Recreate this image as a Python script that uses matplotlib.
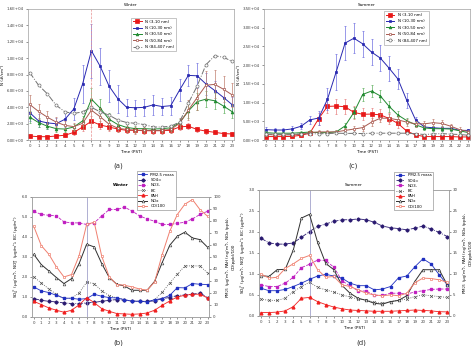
import matplotlib.pyplot as plt
import numpy as np

hours = np.arange(24)

# --- (a) winter number concentrations (#/cm3)
w_n3_10 = [500, 420, 420, 500, 600, 940, 1600, 2300, 1850, 1600, 1350, 1200,
           1200, 1150, 1150, 1150, 1200, 1600, 1700, 1300, 1100, 950, 800, 750]
w_n10_30 = [3350, 2350, 2100, 2000, 2550, 3800, 6850, 10900, 9000, 6600, 5050, 4000,
            3950, 4000, 4300, 4100, 4200, 6100, 7900, 7850, 6850, 6050, 5200, 4300]
w_n30_50 = [2800, 2150, 1700, 1400, 1350, 1600, 2350, 5000, 3900, 2550, 1900, 1550,
            1400, 1400, 1350, 1400, 1500, 2100, 3550, 4700, 5000, 4800, 4150, 3450]
w_n50_84 = [4350, 3500, 2800, 2200, 1800, 1650, 2050, 3650, 2850, 1950, 1450, 1300,
            1200, 1200, 1150, 1200, 1300, 2050, 3650, 5200, 6700, 6800, 6200, 5500]
w_n84_407 = [8250, 6700, 5650, 4250, 3450, 3250, 3450, 4000, 3450, 3050, 2450, 2150,
             2050, 1900, 1600, 1600, 1700, 2200, 4500, 6600, 9200, 10300, 10100, 9600]
w_e3_10 = [200, 150, 150, 200, 250, 350, 500, 700, 500, 450, 400, 350,
           300, 300, 300, 300, 300, 400, 400, 350, 300, 250, 250, 200]
w_e10_30 = [1000, 800, 700, 700, 900, 1400, 2300, 3300, 2300, 1900, 1700, 1000,
            1000, 1000, 1200, 1000, 1100, 1300, 1300, 1500, 1300, 1200, 1100, 1000]
w_e30_50 = [700, 500, 400, 350, 350, 400, 600, 1400, 1100, 700, 500, 400,
            350, 350, 350, 350, 400, 500, 800, 1000, 1000, 1000, 900, 800]
w_e50_84 = [1100, 900, 800, 600, 500, 500, 700, 1500, 1100, 700, 500, 400,
            400, 400, 400, 400, 400, 700, 1200, 1500, 1700, 1700, 1600, 1500]

# --- (c) summer number concentrations (#/cm3)
s_n3_10 = [950, 950, 950, 1000, 1300, 1850, 5750, 9000, 9100, 8900, 7400, 6900,
           6950, 6750, 5750, 4450, 2400, 1400, 950, 950, 950, 950, 850, 850]
s_n10_30 = [2800, 2700, 2700, 3000, 3700, 5400, 5900, 10900, 18300, 25900, 27200, 25700,
            23500, 21900, 19200, 16300, 10600, 5400, 3500, 3300, 3150, 3150, 2600, 2600]
s_n30_50 = [2000, 1850, 1850, 1850, 2000, 2150, 2000, 2000, 2200, 3800, 7400, 12200,
            13100, 11800, 9000, 6700, 5200, 4100, 3250, 3050, 3050, 2950, 2500, 2000]
s_n50_84 = [1500, 1400, 1400, 1400, 1550, 2000, 2200, 2200, 2200, 2600, 2950, 3350,
            4800, 5850, 5850, 5400, 4800, 4350, 4350, 4650, 4450, 3700, 2800, 2300]
s_n84_407 = [1650, 1550, 1550, 1600, 1650, 1700, 1700, 1750, 1850, 1800, 1800, 1750,
             1850, 1850, 1850, 1850, 1850, 1700, 1500, 1650, 1750, 1600, 1500, 1300]
s_e3_10 = [300, 300, 300, 300, 400, 600, 1600, 1800, 2000, 2000, 1800, 1600,
           1500, 1500, 1400, 1100, 700, 400, 300, 300, 300, 300, 300, 300]
s_e10_30 = [600, 600, 600, 700, 800, 1000, 1800, 2900, 4800, 4500, 4000, 3500,
            3400, 3400, 3300, 2700, 2000, 800, 600, 600, 600, 600, 500, 500]
s_e30_50 = [500, 400, 400, 400, 400, 500, 500, 500, 500, 800, 1400, 1700,
            1600, 1500, 1400, 1100, 800, 700, 600, 600, 600, 500, 500, 400]
s_e50_84 = [400, 400, 400, 400, 400, 500, 500, 500, 500, 600, 700, 800,
            1000, 1100, 1100, 1000, 900, 800, 800, 900, 900, 700, 600, 500]

# --- (b) winter species
w_pm25 = [25, 21.7, 20.3, 18, 15.6, 15.6, 14.7, 15.3, 18.9, 17.2, 16.1, 15.8,
          14.4, 13.1, 13.1, 12.5, 14.4, 15.3, 18, 24.4, 24.2, 27.8, 27.2, 27]
w_so4 = [0.92, 0.83, 0.78, 0.75, 0.7, 0.67, 0.67, 0.7, 0.73, 0.78, 0.83, 0.87,
         0.83, 0.8, 0.78, 0.78, 0.8, 0.92, 0.97, 1.07, 1.1, 1.13, 1.2, 0.97]
w_no3 = [5.28, 5.12, 5.08, 5.05, 4.75, 4.7, 4.7, 4.62, 4.7, 5.05, 5.37, 5.37,
         5.48, 5.3, 5.05, 4.9, 4.78, 4.62, 4.62, 4.68, 4.73, 4.9, 5.12, 5.28]
w_bc = [2.0, 1.7, 1.4, 1.13, 0.93, 0.93, 1.2, 1.73, 1.67, 1.3, 1.07, 0.95,
        0.87, 0.78, 0.78, 0.75, 0.87, 1.23, 1.7, 2.13, 2.55, 2.55, 2.55, 2.2]
w_pah = [13, 10.3, 7.5, 5.6, 3.9, 5.6, 10, 16.1, 11.9, 6.9, 4.7, 2.8,
         2.5, 2.2, 2.5, 3.3, 5.6, 9.7, 13.3, 16.7, 18, 18.9, 18.9, 15.8]
w_nox = [52.2, 43.6, 38.3, 32.8, 27.8, 31.9, 44.4, 60.6, 58.3, 44.4, 32.8, 27.2,
         25.8, 22.2, 22.2, 22.2, 29.7, 45.3, 59.7, 67.2, 70.6, 65.8, 64.4, 58.1]
w_co = [75.5, 59.4, 52.2, 41.7, 33.3, 35.3, 51, 77, 78.9, 50.5, 33.3, 27,
        26.4, 25, 23.3, 22.2, 29.2, 52, 71.4, 85.3, 93.9, 97.8, 89.4, 83.9]

# --- (d) summer species
s_pm25 = [6.6, 6.0, 6.0, 6.3, 7.0, 7.8, 8.7, 9.5, 9.9, 9.5, 9.0, 7.8,
          7.2, 7.2, 6.2, 6.4, 7.0, 9.1, 9.5, 11.7, 13.6, 12.4, 9.8, 7.4]
s_so4 = [1.85, 1.74, 1.71, 1.71, 1.74, 1.87, 2.01, 2.13, 2.19, 2.25, 2.29, 2.29,
         2.31, 2.29, 2.23, 2.14, 2.1, 2.08, 2.05, 2.09, 2.14, 2.07, 1.99, 1.89]
s_no3 = [0.74, 0.7, 0.7, 0.78, 0.92, 1.15, 1.23, 1.33, 1.32, 1.16, 0.84, 0.71,
         0.6, 0.59, 0.49, 0.49, 0.54, 0.54, 0.52, 0.57, 0.6, 0.63, 0.64, 0.64]
s_bc = [0.4, 0.37, 0.37, 0.42, 0.58, 0.7, 0.8, 0.68, 0.62, 0.57, 0.5, 0.45,
        0.4, 0.38, 0.32, 0.3, 0.34, 0.37, 0.4, 0.46, 0.5, 0.48, 0.46, 0.44]
s_pah = [0.8, 0.8, 0.9, 1.2, 2.2, 4.2, 4.4, 3.4, 2.7, 2.1, 1.7, 1.4,
         1.3, 1.2, 1.1, 1.1, 1.1, 1.2, 1.3, 1.4, 1.3, 1.2, 1.0, 0.95]
s_nox = [9.6, 9.4, 11, 11.1, 15.7, 23.3, 24.2, 17.5, 12.5, 11, 7.3, 5.4,
         4.2, 3.7, 3.0, 2.8, 3.4, 3.7, 4.8, 8.2, 11, 11, 11, 7.4]
s_co = [10, 9, 9.2, 11.3, 12.4, 13.7, 14.4, 11, 9.2, 9.4, 7.4, 7,
        6.2, 5.4, 5, 4.8, 5, 4.8, 5.4, 7.9, 9, 8.9, 8.6, 8.0]

size_labels = ["N (3-10 nm)", "N (10-30 nm)", "N (30-50 nm)", "N (50-84 nm)", "N (84-407 nm)"]
FS = 2.9   # tick labels
LFS = 3.0  # axis labels

plt.rcParams["font.family"] = ["DejaVu Sans"]
fig = plt.figure(figsize=(4.74, 3.46), dpi=100)


def style_axes(ax):
    for s in ax.spines.values():
        s.set_color("#a0a0a0")
        s.set_linewidth(0.5)
    ax.tick_params(labelsize=FS, length=1.5, width=0.4, pad=1.5, colors="#404040")
    ax.set_xlim(-0.2, 23.2)
    ax.set_xticks(hours)


def size_panel(ax, ns, errs, ymax, ystep, title, vline, leg_anchor):
    styles = [
        dict(color="#e81818", marker="s", ms=2.2, ls="-", mfc="#e81818"),
        dict(color="#2828b0", marker="s", ms=2.0, ls="-", mfc="#2828b0"),
        dict(color="#208a30", marker="^", ms=2.0, ls="-", mfc="#208a30"),
        dict(color="#a85a50", marker="s", ms=2.0, ls="-", mfc="white"),
        dict(color="#707070", marker="o", ms=2.2, ls="-.", mfc="white"),
    ]
    ecols = ["#e88080", "#7070e0", "#60b060", "#c08070", None]
    for i, (n, st) in enumerate(zip(ns, styles)):
        if errs[i] is not None:
            ax.errorbar(hours, n, yerr=errs[i], fmt="none", ecolor=ecols[i],
                        elinewidth=0.5, capsize=1.0, capthick=0.5)
        ax.plot(hours, n, lw=0.7, mew=0.5, label=size_labels[i], **st)
    if vline is not None:
        ax.axvline(vline, color="#e89090", lw=0.5, ls="--")
    style_axes(ax)
    ax.set_ylim(0, ymax)
    ax.set_yticks(np.arange(0, ymax + 1, ystep))
    ax.set_yticklabels(["%.1E" % v for v in np.arange(0, ymax + 1, ystep)])
    ax.set_xlabel("Time (PST)", fontsize=LFS, labelpad=1.5)
    ax.set_ylabel("N (#/cm\u00b3)", fontsize=LFS, labelpad=1.5)
    ax.set_title(title, fontsize=LFS, pad=2)
    leg = ax.legend(loc="upper left", bbox_to_anchor=leg_anchor, fontsize=2.9,
                    frameon=True, fancybox=False, edgecolor="#808080",
                    handlelength=2.2, borderpad=0.5, labelspacing=0.6)
    leg.get_frame().set_linewidth(0.4)


ax_a = fig.add_axes([0.059, 0.595, 0.435, 0.379])
size_panel(ax_a, [w_n3_10, w_n10_30, w_n30_50, w_n50_84, w_n84_407],
           [w_e3_10, w_e10_30, w_e30_50, w_e50_84, None], 16000, 2000,
           "Winter", 7, (0.49, 0.95))

ax_c = fig.add_axes([0.557, 0.595, 0.435, 0.379])
size_panel(ax_c, [s_n3_10, s_n10_30, s_n30_50, s_n50_84, s_n84_407],
           [s_e3_10, s_e10_30, s_e30_50, s_e50_84, None], 35000, 5000,
           "Summer", None, (0.57, 1.0))


def species_panel(ax, left_max, left_step, right_max, right_step, data, title,
                  vline, leg_anchor, bold, tpad):
    pm25, so4, no3, bc, pah, nox, co = data
    axr = ax.twinx()
    lines = []
    lines += axr.plot(hours, pm25, color="#2030c0", marker="s", ms=2.0, lw=0.6,
                      label="PM2.5 mass")
    lines += ax.plot(hours, so4, color="#2a1a70", marker="D", ms=1.6, lw=0.6,
                     ls="-.", label="SO4=")
    lines += ax.plot(hours, no3, color="#c020c0", marker="s", ms=2.0, lw=0.6,
                     ls="--", label="NO3-")
    lines += ax.plot(hours, bc, color="#505050", marker="x", ms=2.0, mew=0.5,
                     lw=0.6, ls=":", label="BC")
    lines += axr.plot(hours, pah, color="#f02020", marker="^", ms=2.0, lw=0.6,
                      label="PAH")
    lines += axr.plot(hours, nox, color="#303030", marker="^", ms=2.0, mfc="white",
                      mew=0.4, lw=0.7, label="NOx")
    lines += axr.plot(hours, co, color="#f08070", marker="s", ms=2.0, mfc="white",
                      mew=0.5, lw=0.7, label="CO/100")
    ax.axvline(vline, color="#9090c0", lw=0.5)
    style_axes(ax)
    style_axes(axr)
    ax.set_ylim(0, left_max)
    ax.set_yticks(np.arange(0, left_max + 0.01, left_step))
    ax.set_yticklabels(["%.1f" % v for v in np.arange(0, left_max + 0.01, left_step)])
    axr.set_ylim(0, right_max)
    axr.set_yticks(np.arange(0, right_max + 0.01, right_step))
    ax.set_xlabel("Time (PST)", fontsize=LFS, labelpad=1.5)
    ax.set_ylabel("SO$_4^=$ (\u00b5g/m\u00b3), NO$_3^-$ (\u00b5g/m\u00b3), BC (\u00b5g/m\u00b3)",
                  fontsize=LFS, labelpad=1.5)
    axr.set_ylabel("PM$_{2.5}$ (\u00b5g/m\u00b3), PAH (ng/m\u00b3), NOx (ppb),\nCO(ppb)/100",
                   fontsize=LFS, labelpad=1.5, linespacing=1.0)
    ax.set_title(title, fontsize=LFS, pad=tpad, fontweight="bold" if bold else "normal")
    leg = axr.legend(lines, [l.get_label() for l in lines], loc="upper left",
                     bbox_to_anchor=leg_anchor, fontsize=2.9, frameon=True,
                     fancybox=False, edgecolor="#808080", handlelength=2.2,
                     borderpad=0.4, labelspacing=0.3, framealpha=1)
    leg.get_frame().set_linewidth(0.4)


ax_b = fig.add_axes([0.068, 0.084, 0.373, 0.347])
species_panel(ax_b, 6.0, 1.0, 100, 10,
              [w_pm25, w_so4, w_no3, w_bc, w_pah, w_nox, w_co],
              "Winter", 7, (0.58, 1.23), True, 8)

ax_d = fig.add_axes([0.547, 0.087, 0.40, 0.364])
species_panel(ax_d, 3.0, 0.5, 30, 5,
              [s_pm25, s_so4, s_no3, s_bc, s_pah, s_nox, s_co],
              "Summer", 6, (0.70, 1.16), False, 3)

fig.text(0.249, 0.515, "(a)", fontsize=5, ha="center", color="#303030")
fig.text(0.745, 0.515, "(c)", fontsize=5, ha="center", color="#303030")
fig.text(0.249, 0.005, "(b)", fontsize=5, ha="center", color="#303030")
fig.text(0.762, 0.005, "(d)", fontsize=5, ha="center", color="#303030")

fig.savefig("out.png", dpi=100)
